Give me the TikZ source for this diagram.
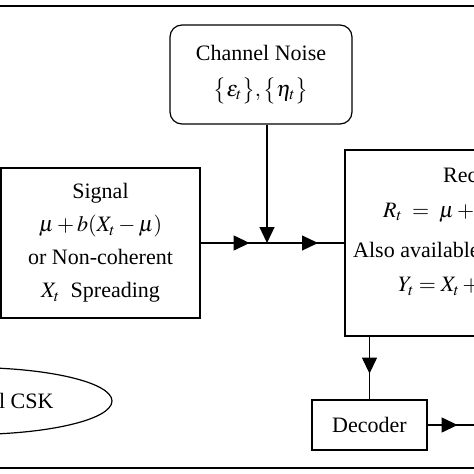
\documentclass[tikz,border=0pt]{standalone}
\usepackage{mathptmx}
\usepackage[no-math]{fontspec}
\setmainfont{Liberation Serif}
\usetikzlibrary{arrows.meta,decorations.markings,shapes.geometric}

\tikzset{
  blok/.style={draw,line width=1.2pt,inner sep=0pt,align=center},
  regel/.style={anchor=west,inner sep=0pt},
  pijl/.style={line width=1.2pt},
  midpijl/.style={pijl,postaction={decorate,decoration={markings,
    mark=at position #1 with {\arrow{Triangle[length=16pt,width=15pt]}}}}}
}

\begin{document}
\begin{tikzpicture}[x=1pt,y=-1pt,font=\fontsize{22}{33}\selectfont]

  \useasboundingbox (0,0) rectangle (474,474);
  \clip (0,0) rectangle (474,474);

  % frame
  \draw[line width=2.5pt] (-5,6) -- (480,6);
  \draw[line width=2.5pt] (-5,468) -- (480,468);

  % blocks
  \node[blok,rounded corners=12pt,minimum width=182pt,minimum height=99pt]
    (noise) at (261,74.5) {Channel Noise\\[3pt]$\bigl\{\varepsilon_t\bigr\},\bigl\{\eta_t\bigr\}$};
  \node[blok,minimum width=199pt,minimum height=150pt]
    (sig) at (100.5,243) {Signal\\$\mu+b(X_t-\mu)$\\or Non-coherent\\$X_t$\ \ Spreading};
  \node[blok,minimum width=175pt,minimum height=186pt] (recv) at (432.5,243) {};
  \node[blok,minimum width=115pt,minimum height=50pt] (dec) at (369.5,425) {Decoder};
  \node[blok,ellipse,minimum width=284pt,minimum height=67pt]
    (csk) at (-30,401) {Conventional CSK};

  % receiver text
  \node[regel] (rec1) at (443,175) {Receiver};
  \node[regel] (rec2) at (383,212) {$R_t\;=\;\mu+b(X_t-\mu)+\varepsilon_t$};
  \node[regel] (rec3) at (353,250) {Also available:};
  \node[regel] (rec4) at (398,287) {$Y_t=X_t+\eta_t$};

  % connectors
  \coordinate (junc) at (267,243);
  \coordinate (uit) at (500,425);
  \draw[pijl,-{Triangle[length=16pt,width=15pt]}] (noise.south -| junc) -- (junc);
  \draw[midpijl=49pt] (sig.east) -- (junc);
  \draw[midpijl=51pt] (junc) -- (recv.west);
  \draw[midpijl=37pt] (dec.north |- recv.south) -- (dec.north);
  \draw[midpijl=30pt] (dec.east) -- (uit);

\end{tikzpicture}
\end{document}
